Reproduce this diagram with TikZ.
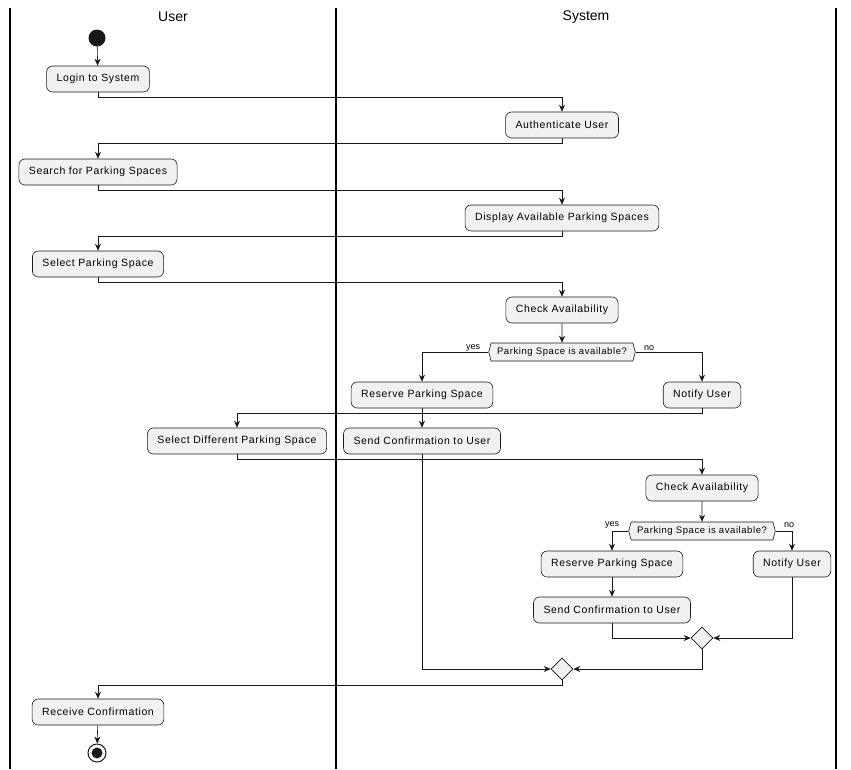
\documentclass[tikz,border=0pt]{standalone}
\usepackage{fontspec}
\setmainfont{Liberation Sans}
\newfontfamily\spc{Liberation Sans}[LetterSpace=6]
\usetikzlibrary{shapes.geometric,shapes.symbols,arrows.meta}
\definecolor{bx}{HTML}{F1F1F1}
\definecolor{ln}{HTML}{181818}
\begin{document}
\begin{tikzpicture}[x=1pt,y=-1pt,
 act/.style={draw=ln,fill=bx,rounded corners=6pt,minimum height=26pt,inner xsep=10pt,font=\spc\fontsize{10.5}{12}\selectfont,line width=0.6pt},
 hex/.style={draw=ln,fill=bx,signal,signal to=west and east,signal pointer angle=150,inner xsep=6pt,inner ysep=2pt,minimum height=18pt,font=\spc\fontsize{9.5}{11}\selectfont,line width=0.6pt},
 mrg/.style={draw=ln,fill=bx,diamond,minimum size=22pt,inner sep=0pt,line width=0.6pt},
 lbl/.style={font=\fontsize{9}{10}\selectfont,inner sep=1pt},
 e/.style={draw=ln,line width=0.6pt,-{Stealth[length=7pt,width=6pt]}},
 lane/.style={line width=1.2pt}]
\useasboundingbox (0,0) rectangle (851,769);
\draw[lane] (10,8) -- (10,769) (336,8) -- (336,769) (836,8) -- (836,769);
\node[font=\fontsize{14}{16}\selectfont] (tu) at (173,17) {User};
\node[font=\fontsize{14}{16}\selectfont] (ts) at (586,17) {System};
\node[circle,fill=ln,minimum size=17pt,inner sep=0pt] (st) at (97,38) {};
\node[act] (a1) at (98,79) {Login to System};
\node[act] (a2) at (562,125) {Authenticate User};
\node[act] (a3) at (98,172) {Search for Parking Spaces};
\node[act] (a4) at (562,218) {Display Available Parking Spaces};
\node[act] (a5) at (98,264) {Select Parking Space};
\node[act] (a6) at (562,310) {Check Availability};
\node[hex] (d1) at (562,352) {Parking Space is available?};
\node[lbl] (y1) at (473,348) {yes};
\node[lbl] (n1) at (649,348) {no};
\node[act] (a7) at (422,395) {Reserve Parking Space};
\node[act] (a8) at (702,395) {Notify User};
\node[act] (a9) at (237,441) {Select Different Parking Space};
\node[act] (a10) at (422,441) {Send Confirmation to User};
\node[act] (a11) at (702,488) {Check Availability};
\node[hex] (d2) at (702,531) {Parking Space is available?};
\node[lbl] (y2) at (612,525) {yes};
\node[lbl] (n2) at (789,525) {no};
\node[act] (a12) at (612,564) {Reserve Parking Space};
\node[act] (a13) at (792,564) {Notify User};
\node[act] (a14) at (612,610) {Send Confirmation to User};
\node[mrg] (m1) at (702,638) {};
\node[mrg] (m2) at (562,669) {};
\node[act] (a15) at (98,712) {Receive Confirmation};
\node[circle,draw=ln,line width=1pt,minimum size=18pt,inner sep=0pt] (en) at (97,753) {};
\node[circle,fill=ln,minimum size=11pt,inner sep=0pt] (en2) at (97,753) {};
\draw[e] (st) -- (a1);
\draw[e] (a1.south) -- ++(0,5) -| (a2.north);
\draw[e] (a2.south) -- ++(0,5) -| (a3.north);
\draw[e] (a3.south) -- ++(0,5) -| (a4.north);
\draw[e] (a4.south) -- ++(0,5) -| (a5.north);
\draw[e] (a5.south) -- ++(0,5) -| (a6.north);
\draw[e] (a6) -- (d1);
\draw[e] (d1.west) -| (a7.north);
\draw[e] (d1.east) -| (a8.north);
\draw[e] (a7) -- (a10);
\draw[e] (a8.south) -- ++(0,5) -| (a9.north);
\draw[e] (a9.south) -- ++(0,5) -| (a11.north);
\draw[e] (a10.south) |- (m2.west);
\draw[e] (a11) -- (d2);
\draw[e] (d2.west) -| (a12.north);
\draw[e] (d2.east) -| (a13.north);
\draw[e] (a12) -- (a14);
\draw[e] (a14.south) |- (m1.west);
\draw[e] (a13.south) |- (m1.east);
\draw[e] (m1.south) |- (m2.east);
\draw[e] (m2.south) -- ++(0,5) -| (a15.north);
\draw[e] (a15) -- (en);
\end{tikzpicture}
\end{document}
